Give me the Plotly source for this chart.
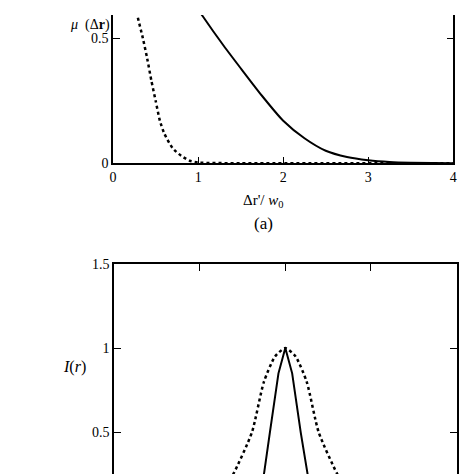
import plotly.graph_objects as go

# panel (a): mu(dr) vs dr'/w0
a_solid_x = [0, 0.5, 0.8, 1.05, 1.3, 1.5, 1.75, 2.0, 2.25, 2.5, 2.75, 3.0, 3.25, 3.5, 4.0]
a_solid_y = [1.0, 0.88, 0.72, 0.59, 0.47, 0.38, 0.27, 0.17, 0.10, 0.05, 0.025, 0.012, 0.005, 0.002, 0.0]
a_dash_x = [0, 0.2, 0.28, 0.35, 0.4, 0.45, 0.5, 0.55, 0.6, 0.7, 0.8, 0.9, 1.0, 1.5, 4.0]
a_dash_y = [1.0, 0.8, 0.6, 0.5, 0.42, 0.33, 0.25, 0.17, 0.12, 0.06, 0.03, 0.01, 0.003, 0.0, 0.0]

# panel (b): I(r)
b_solid_x = [-0.3, -0.25, -0.18, -0.08, 0, 0.08, 0.18, 0.25, 0.3]
b_solid_y = [0.13, 0.25, 0.5, 0.85, 1.0, 0.85, 0.5, 0.25, 0.13]
b_dash_x = [-0.8, -0.61, -0.39, -0.25, -0.12, 0, 0.12, 0.25, 0.39, 0.61, 0.8]
b_dash_y = [0.1, 0.25, 0.5, 0.8, 0.95, 1.0, 0.95, 0.8, 0.5, 0.25, 0.1]

FONT = "Liberation Serif"
line = dict(color="black", width=2, shape="spline", smoothing=0.6)
dash = dict(color="black", width=2.5, dash="dot", shape="spline", smoothing=0.6)

fig = go.Figure()
fig.add_trace(go.Scatter(x=a_solid_x, y=a_solid_y, mode="lines", line=line, xaxis="x", yaxis="y"))
fig.add_trace(go.Scatter(x=a_dash_x, y=a_dash_y, mode="lines", line=dash, xaxis="x", yaxis="y"))
fig.add_trace(go.Scatter(x=b_solid_x, y=b_solid_y, mode="lines", line=dict(color="black", width=2),
                         xaxis="x2", yaxis="y2"))
fig.add_trace(go.Scatter(x=b_dash_x, y=b_dash_y, mode="lines", line=dash, xaxis="x2", yaxis="y2"))

ax = dict(showline=True, linecolor="black", linewidth=1.5, showgrid=False, zeroline=False,
          ticks="inside", ticklen=7, tickcolor="black", tickfont=dict(family=FONT, size=14, color="black"))

fig.update_layout(
    width=474, height=474, margin=dict(l=0, r=0, t=0, b=0),
    plot_bgcolor="white", paper_bgcolor="white", showlegend=False,
    font=dict(family=FONT, size=15, color="black"),
    xaxis=dict(ax, domain=[0.217, 0.947], range=[0, 4], tickvals=[0, 1, 2, 3, 4], anchor="y", mirror=False),
    yaxis=dict(ax, domain=[0.677, 1], range=[0, 0.593], tickvals=[0, 0.5], ticktext=["0", "0.5"],
               anchor="x", mirror="ticks"),
    xaxis2=dict(ax, domain=[0.219, 0.954], range=[-2, 2], tickvals=[-1, 0, 1], showticklabels=False,
                anchor="y2", side="top", mirror=False),
    yaxis2=dict(ax, domain=[0, 0.458], range=[0.253, 1.5], tickvals=[0.5, 1, 1.5], ticktext=["0.5", "1", "1.5"],
                anchor="x2", mirror="ticks"),
    annotations=[
        dict(text="Δr'/ <i>w</i><sub>0</sub>", x=0.54, y=0.595, xref="paper", yref="paper", showarrow=False,
             font=dict(family=FONT, size=15, color="black")),
        dict(text="(a)", x=0.54, y=0.545, xref="paper", yref="paper", showarrow=False,
             font=dict(family=FONT, size=17, color="black")),
        dict(text="<i>I</i>(<i>r</i>)", x=0.105, y=0.21, xref="paper", yref="paper", showarrow=False,
             font=dict(family=FONT, size=16, color="black")),
        dict(text="<i>μ</i>  (Δ<b>r</b>)", x=0.12, y=1.0, xref="paper", yref="paper", showarrow=False,
             yanchor="top", font=dict(family=FONT, size=14, color="black")),
    ],
)
fig.write_html("out.html")
